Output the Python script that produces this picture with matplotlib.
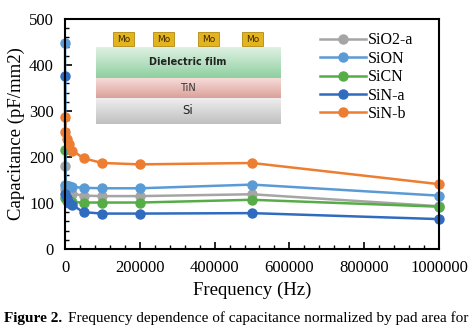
import numpy as np
import matplotlib
matplotlib.use("Agg")
import matplotlib.pyplot as plt
from matplotlib.patches import Rectangle
from matplotlib.ticker import MultipleLocator

freq = [100, 1000, 5000, 10000, 20000, 50000, 100000, 200000, 500000, 1000000]
series_names = ["SiO2-a", "SiON", "SiCN", "SiN-a", "SiN-b"]
sio2_a = [180, 130, 125, 122, 120, 116, 115, 115, 119, 93]
sion = [448, 140, 137, 136, 135, 133, 132, 132, 140, 116]
sicn = [215, 110, 105, 103, 102, 101, 101, 101, 107, 92]
sin_a = [376, 120, 110, 100, 95, 80, 77, 77, 78, 65]
sin_b = [287, 254, 240, 228, 214, 197, 187, 184, 187, 141]
colors = ["#a5a5a5", "#5b9bd5", "#56ad47", "#2f6cc0", "#ed7d31"]
xticks = [0, 200000, 400000, 600000, 800000, 1000000]
xticklabels = ["0", "200000", "400000", "600000", "800000", "1000000"]
yticks = [0, 100, 200, 300, 400, 500]

W, H = 474, 327
fig = plt.figure(figsize=(W / 100, H / 100), dpi=100)
ax = fig.add_axes([65 / W, 1 - 249 / H, (439 - 65) / W, (249 - 19) / H])
serif = ["Liberation Serif", "DejaVu Serif"]

for vals, name, c in zip([sio2_a, sion, sicn, sin_a, sin_b], series_names, colors):
    ax.plot(freq, vals, color=c, lw=1.8, marker="o", ms=6.5, label=name, clip_on=False)

ax.set_xlim(0, 1000000)
ax.set_ylim(0, 500)
ax.set_xticks(xticks)
ax.set_xticklabels(xticklabels)
ax.set_yticks(yticks)
ax.xaxis.set_minor_locator(MultipleLocator(40000))
ax.yaxis.set_minor_locator(MultipleLocator(20))
ax.tick_params(which="both", direction="in", top=False, right=False)
ax.tick_params(which="major", length=5, width=1.2, labelsize=12, pad=8)
ax.tick_params(which="minor", length=3, width=1.0)
for lab in ax.get_xticklabels() + ax.get_yticklabels():
    lab.set_family(serif)
for s in ax.spines.values():
    s.set_linewidth(1.5)
    s.set_color("black")

ax.set_xlabel("Frequency (Hz)", family=serif, fontsize=13.5, labelpad=4)
ax.set_ylabel("Capacitance (pF/mm2)", family=serif, fontsize=13.5, labelpad=3)

leg = ax.legend(loc="upper right", bbox_to_anchor=(0.96, 0.99), frameon=False,
                prop={"family": serif, "size": 11.5}, handlelength=2.9,
                labelspacing=0.15, handletextpad=0.1, borderpad=0.2)

# inset structure diagram (figure pixel coords)
def fx(x):
    return x / W

def fy(y):
    return 1 - y / H

iax = fig.add_axes([fx(96), fy(124), fx(281) - fx(96), fy(32) - fy(124)])
iax.axis("off")

def grad(y0, y1, ctop, cbot):
    g = np.linspace(0, 1, 50)[:, None, None]
    a = np.array(matplotlib.colors.to_rgb(ctop))
    b = np.array(matplotlib.colors.to_rgb(cbot))
    img = (1 - g) * a + g * b
    img = np.repeat(img, 2, axis=1)
    iax.imshow(img, extent=[96, 281, y1, y0], aspect="auto", zorder=1)

grad(47, 78, "#dff1e3", "#8fd0a0")
grad(78, 98, "#f6dcd8", "#dca09a")
grad(98, 124, "#eeeeee", "#c0c0c0")
iax.text(188, 62, "Dielectric film", ha="center", va="center", fontsize=7,
         fontweight="bold", family="DejaVu Sans", color="#222222", zorder=3)
iax.text(188, 88, "TiN", ha="center", va="center", fontsize=7,
         family="DejaVu Sans", color="#333333", zorder=3)
iax.text(188, 111, "Si", ha="center", va="center", fontsize=8.5,
         family="DejaVu Sans", color="#222222", zorder=3)
for x0 in [113, 153, 198, 242]:
    iax.add_patch(Rectangle((x0, 32), 21, 14, facecolor="#e3b41f",
                            edgecolor="#b08a10", lw=0.6, zorder=3))
    iax.text(x0 + 10.5, 39.5, "Mo", ha="center", va="center", fontsize=6.5,
             family="DejaVu Sans", color="#3a2a00", zorder=4)
iax.set_xlim(96, 281)
iax.set_ylim(124, 32)

# caption
fig.text(fx(4), fy(322), "Figure 2.", family=serif, fontweight="bold", fontsize=11,
         va="baseline")
fig.text(fx(68), fy(322), "Frequency dependence of capacitance normalized by pad area for",
         family=serif, fontsize=11, va="baseline")

fig.savefig("out.png", dpi=100)
